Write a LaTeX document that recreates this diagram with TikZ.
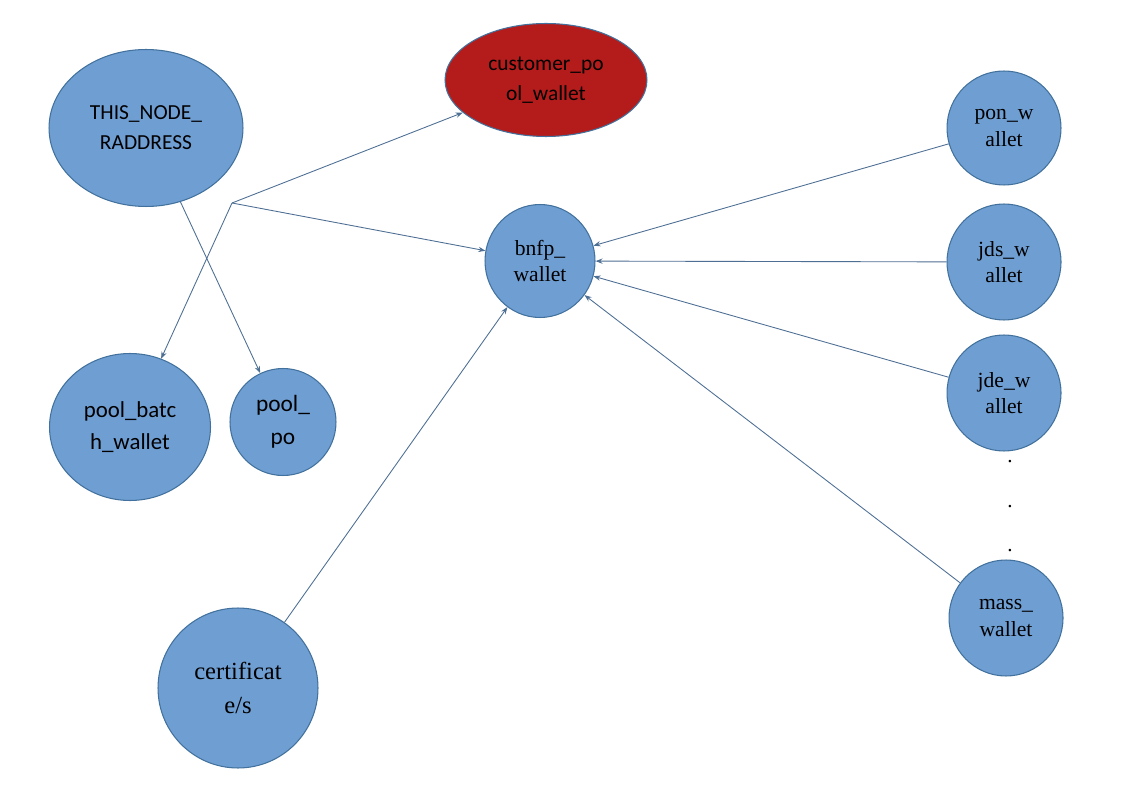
\documentclass[tikz,border=0pt]{standalone}
\usepackage{fontspec}
\setmainfont{Liberation Serif}
\newfontfamily\calibri{Carlito}
\usetikzlibrary{shapes.geometric,arrows.meta}
\begin{document}
\begin{tikzpicture}[x=0.02cm,y=-0.02cm,
walletnode/.style={ellipse, draw=borderblue, fill=bluefill, line width=0.6pt, inner sep=0pt, align=center, font=\fontsize{12.3}{15}\selectfont},
link/.style={draw=bluefill!70!black, line width=0.5pt, -{Stealth[length=4pt,width=3pt]}},
]
\definecolor{bluefill}{HTML}{6F9ED3}
\definecolor{borderblue}{HTML}{41719C}
\definecolor{redfill}{HTML}{B41C1C}
\useasboundingbox (0,0) rectangle (1121,793);
%Nodes
\node[walletnode, minimum width=3.88cm, minimum height=3.14cm, font=\calibri\fontsize{12.2}{17}\selectfont] (this_node) at (146,128) {THIS\_NODE\_\\RADDRESS};
\node[walletnode, fill=redfill, minimum width=4.04cm, minimum height=2.26cm, font=\calibri\fontsize{12.2}{17}\selectfont] (customer_pool) at (546,80) {customer\_po\\ol\_wallet};
\node[walletnode, minimum width=2.2cm, minimum height=2.26cm] (bnfp) at (540,261) {bnfp\_\\wallet};
\node[walletnode, minimum width=2.28cm, minimum height=2.28cm] (pon) at (1004,128) {pon\_w\\allet};
\node[walletnode, minimum width=2.28cm, minimum height=2.32cm] (jds) at (1004,262) {jds\_w\\allet};
\node[walletnode, minimum width=2.28cm, minimum height=2.32cm] (jde) at (1004,393) {jde\_w\\allet};
\node[walletnode, minimum width=2.28cm, minimum height=2.32cm] (mass) at (1006,618) {mass\_\\wallet};
\node[walletnode, minimum width=3.22cm, minimum height=2.94cm, font=\calibri\fontsize{13}{18}\selectfont] (pool_batch) at (130,427) {pool\_batc\\h\_wallet};
\node[walletnode, minimum width=2.12cm, minimum height=2.14cm, font=\calibri\fontsize{13.3}{19}\selectfont] (pool_po) at (283,422) {pool\_\\po};
\node[walletnode, minimum width=3.2cm, minimum height=3.2cm, font=\fontsize{14}{19}\selectfont] (certificate) at (238,688) {certificat\\e/s};
\foreach \y/\n in {462/a,507/b,551/c}
  \node[font=\fontsize{12}{12}\selectfont, inner sep=0pt] (dot_\n) at (1010,\y) {.};
\coordinate (hub) at (232,203);

%Lines
\draw[link] (this_node) -- (pool_po);
\draw[link] (hub) -- (customer_pool);
\draw[link] (hub) -- (bnfp);
\draw[link] (hub) -- (pool_batch);
\draw[link] (pon) -- (bnfp);
\draw[link] (jds) -- (bnfp);
\draw[link] (jde) -- (bnfp);
\draw[link] (mass) -- (bnfp);
\draw[link] (certificate) -- (bnfp);

\end{tikzpicture}
\end{document}
